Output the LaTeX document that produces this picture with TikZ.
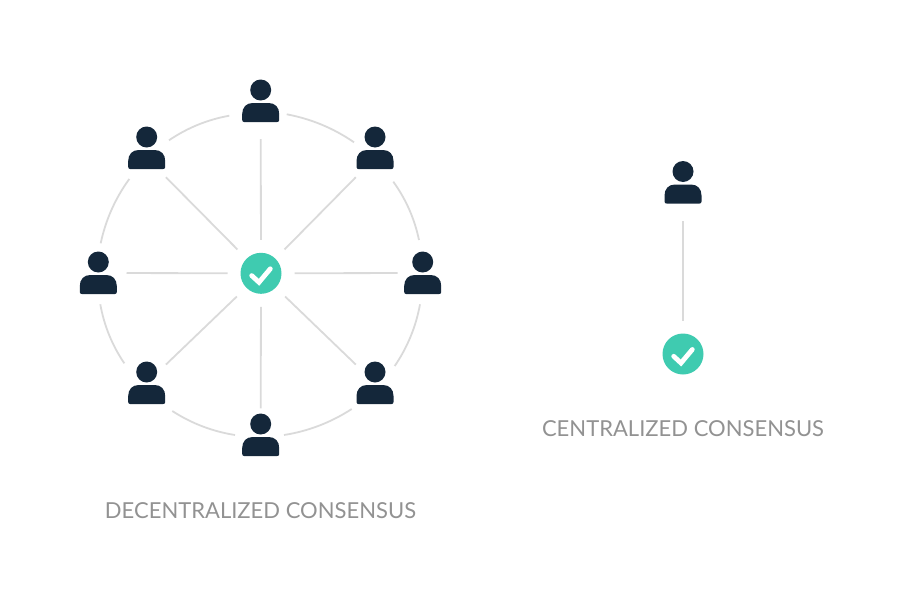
\documentclass[tikz,border=0pt]{standalone}
\usepackage{xcolor}
\usepackage{fontspec}
\setmainfont{Lato}
\usetikzlibrary{positioning}
\definecolor{navy}{HTML}{14273A}
\definecolor{mint}{HTML}{3FCBB0}
\definecolor{wire}{HTML}{DADADA}
\definecolor{caption}{HTML}{929292}

\begin{document}
\begin{tikzpicture}[x=1pt, y=-1pt,
    person/.style={rectangle, minimum width=38pt, minimum height=44pt, inner sep=0pt,
        path picture={
            \begin{scope}[shift={(path picture bounding box.center)}]
                \fill[navy] (0,-11) circle (10.5);
                \fill[navy] (-18.5,19) -- (-18.5,13) .. controls (-18.5,6.5) and (-14.5,2) .. (-8,2)
                    -- (8,2) .. controls (14.5,2) and (18.5,6.5) .. (18.5,13) -- (18.5,19)
                    .. controls (18.5,20.5) and (17.5,21) .. (16.5,21) -- (-16.5,21)
                    .. controls (-17.5,21) and (-18.5,20.5) .. (-18.5,19) -- cycle;
            \end{scope}
        }},
    hub/.style={circle, fill=mint, minimum size=41pt, inner sep=0pt, outer sep=13pt,
        path picture={
            \draw[white, line width=4.8pt, line cap=round]
                ([shift={(-9.3,2.3)}]path picture bounding box.center)
                -- ([shift={(-2,9)}]path picture bounding box.center)
                -- ([shift={(9.3,-4.5)}]path picture bounding box.center);
        }},
    spoke/.style={draw=wire, line width=1.8pt},
    ring/.style={draw=wire, line width=1.8pt, bend left=12, looseness=.87},
    title/.style={text=caption, inner sep=0pt, font=\fontsize{22}{26}\selectfont}]

    \useasboundingbox (0,0) rectangle (905,605);

    \node[hub] (center) at (261,273.3) {};
    \node[person] (n) at (260.7,101) {};
    \node[person] (ne) at (375,148) {};
    \node[person] (e) at (422.7,273) {};
    \node[person] (se) at (375,383) {};
    \node[person] (s) at (260.7,435) {};
    \node[person] (sw) at (146.7,383) {};
    \node[person] (w) at (98.3,273) {};
    \node[person] (nw) at (146.7,148) {};

    \draw[spoke, shorten >=16pt] (center) -- (n);
    \draw[spoke] (center) -- ([yshift=-7pt]ne.south west);
    \draw[spoke, shorten >=6pt] (center) -- (e);
    \draw[spoke] (center) -- (se);
    \draw[spoke, shorten >=4.5pt] (center) -- (s);
    \draw[spoke] (center) -- (sw);
    \draw[spoke, shorten >=9pt] (center) -- (w);
    \draw[spoke] (center) -- ([yshift=-7pt]nw.south east);

    \coordinate (n-ne-a) at (286.7,114.3);
    \coordinate (n-ne-b) at (354,142.3);
    \coordinate (ne-e-a) at (393.3,181.7);
    \coordinate (ne-e-b) at (419,240);
    \coordinate (e-se-a) at (420,304.3);
    \coordinate (e-se-b) at (394.7,366);
    \coordinate (se-s-a) at (351.7,409);
    \coordinate (se-s-b) at (284,435);
    \coordinate (s-sw-a) at (235,435);
    \coordinate (s-sw-b) at (172.3,411);
    \coordinate (sw-w-a) at (124.3,363.3);
    \coordinate (sw-w-b) at (100.3,304.3);
    \coordinate (w-nw-a) at (100.7,243.3);
    \coordinate (w-nw-b) at (129.3,179);
    \coordinate (nw-n-a) at (169,140.3);
    \coordinate (nw-n-b) at (229.3,115.7);

    \draw[ring] (n-ne-a) to (n-ne-b);
    \draw[ring] (ne-e-a) to (ne-e-b);
    \draw[ring] (e-se-a) to (e-se-b);
    \draw[ring] (se-s-a) to (se-s-b);
    \draw[ring] (s-sw-a) to (s-sw-b);
    \draw[ring] (sw-w-a) to (sw-w-b);
    \draw[ring] (w-nw-a) to (w-nw-b);
    \draw[ring] (nw-n-a) to (nw-n-b);

    \node[title] (decentral) at (260.5,511) {DECENTRALIZED CONSENSUS};

    \node[hub] (single) at (683,354) {};
    \node[person] (solo) at (683,182.5) {};
    \draw[spoke, shorten >=16pt] (single) -- (solo);
    \node[title] (central) at (683,429) {CENTRALIZED CONSENSUS};
\end{tikzpicture}
\end{document}
